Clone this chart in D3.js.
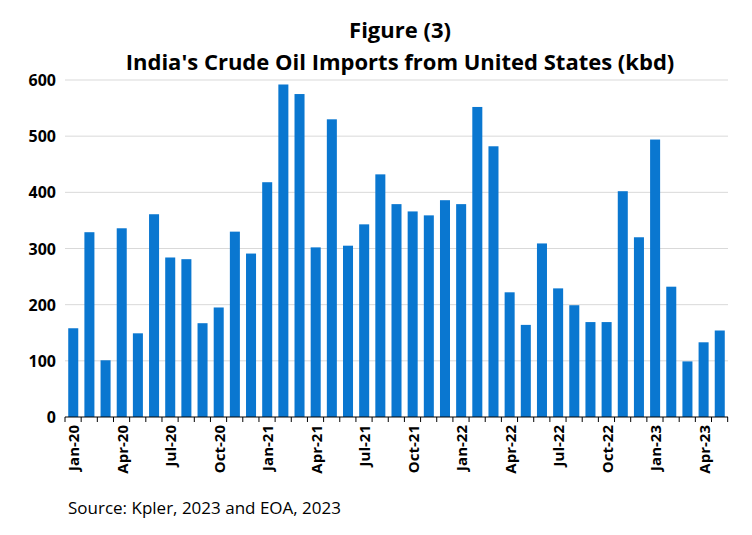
<!DOCTYPE html>
<html><head><meta charset="utf-8">
<script src="https://cdn.jsdelivr.net/npm/d3@7"></script>
<style>body{margin:0;background:#fff}</style></head>
<body><svg id="c" width="752" height="535"></svg>
<script>
const months=["Jan","Feb","Mar","Apr","May","Jun","Jul","Aug","Sep","Oct","Nov","Dec"];
const categories=[];
for(let y=20;y<=23;y++)for(let m=0;m<12;m++){if(y===23&&m>4)break;categories.push(months[m]+"-"+y);}
const values=[158,329,101,336,149,361,284,281,167,195,330,291,418,592,575,302,530,305,343,432,379,366,359,386,379,552,482,222,164,309,229,199,169,169,402,320,494,232,99,133,154];
const yTicks=[0,100,200,300,400,500,600];
const svg=d3.select("#c");
const L=65,R=728,T=80,B=417;
const x=d3.scaleBand().domain(categories).range([L,R]).paddingInner(0.38).paddingOuter(0.2);
const y=d3.scaleLinear().domain([0,600]).range([B,T]);
svg.append("g").selectAll("line").data(yTicks.slice(1)).join("line")
 .attr("x1",L).attr("x2",R).attr("y1",d=>y(d)).attr("y2",d=>y(d)).attr("stroke","#d9d9d9");
svg.append("g").selectAll("rect").data(values).join("rect")
 .attr("x",(d,i)=>x(categories[i])).attr("width",x.bandwidth())
 .attr("y",d=>y(d)).attr("height",d=>B-y(d)).attr("fill","#0a77d0");
const font="'Open Sans', 'DejaVu Sans', sans-serif";
svg.append("g").selectAll("text").data(yTicks).join("text")
 .attr("x",L-9).attr("y",d=>y(d)+6).attr("text-anchor","end")
 .attr("font-family",font).attr("font-weight","bold").attr("font-size",16).text(d=>d);
svg.append("line").attr("x1",L).attr("x2",R).attr("y1",B).attr("y2",B).attr("stroke","#000");
const step=x.step();
svg.append("g").selectAll("line").data(categories.concat(["end"])).join("line")
 .attr("x1",(d,i)=>x(categories[0])-x.paddingOuter()*step+ (i-0)*step - (1-0.38)*0 )
 .attr("x2",(d,i)=>x(categories[0])-x.paddingOuter()*step+i*step)
 .attr("y1",B).attr("y2",B+5).attr("stroke","#000");
svg.append("g").selectAll("text").data(categories.filter((c,i)=>i%3===0)).join("text")
 .attr("transform",d=>`translate(${x(d)+x.bandwidth()/2+6},${B+8}) rotate(-90)`)
 .attr("text-anchor","end").attr("font-family",font).attr("font-weight","bold").attr("font-size",15).text(d=>d);
svg.append("text").attr("x",400).attr("y",38).attr("text-anchor","middle").attr("font-family",font).attr("font-weight","bold").attr("font-size",22).text("Figure (3)");
svg.append("text").attr("x",400).attr("y",70).attr("text-anchor","middle").attr("font-family",font).attr("font-weight","bold").attr("font-size",22).text("India's Crude Oil Imports from United States (kbd)");
svg.append("text").attr("x",68).attr("y",514).attr("font-family",font).attr("font-size",17).text("Source: Kpler, 2023 and EOA, 2023");
</script></body></html>
